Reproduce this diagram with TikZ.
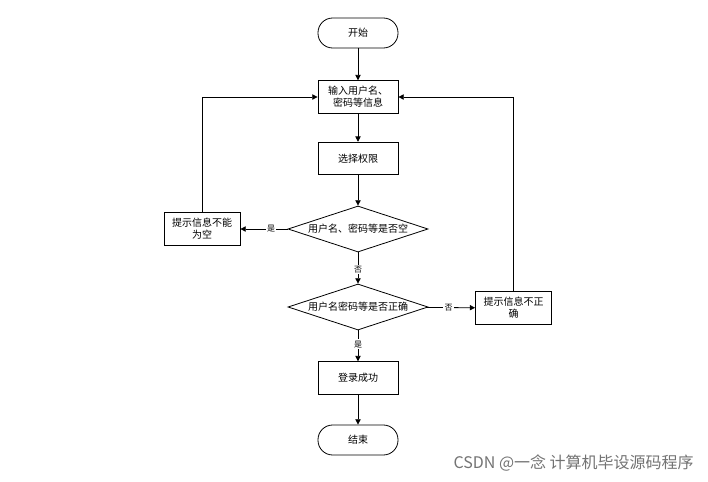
\documentclass[tikz,border=0pt]{standalone}
\usepackage{fontspec}
\setmainfont{Noto Sans CJK SC}
\usetikzlibrary{shapes.geometric,arrows.meta}
\begin{document}
\begin{tikzpicture}[x=0.75pt,y=-0.75pt,
  box/.style={draw,line width=0.6pt,minimum width=60pt,minimum height=24.5pt,align=center,font=\fontsize{7.5}{9}\selectfont,inner sep=1pt},
  term/.style={draw,line width=0.6pt,rounded corners=11pt,minimum width=60pt,minimum height=22.5pt,font=\fontsize{7.5}{9}\selectfont},
  dia/.style={draw,line width=0.6pt,diamond,aspect=3,minimum width=105pt,minimum height=34.5pt,inner sep=0pt,font=\fontsize{7.5}{9}\selectfont},
  arr/.style={-{Triangle[length=4pt,width=4pt]},line width=0.6pt},
  lab/.style={fill=white,inner sep=1pt,font=\fontsize{6}{7}\selectfont}]
\useasboundingbox (0,0) rectangle (708,482);
\node[term] (start) at (358,33) {开始};
\node[box] (input) at (358,97) {输入用户名、\\密码等信息};
\node[box] (perm) at (358,158.5) {选择权限};
\node[dia] (d1) at (358,229) {用户名、密码等是否空};
\node[box,minimum width=57pt] (empty) at (202,229) {提示信息不能\\为空};
\node[dia] (d2) at (358,307) {用户名密码等是否正确};
\node[box,minimum width=57pt] (wrong) at (513.5,308) {提示信息不正\\确};
\node[box] (ok) at (358,378) {登录成功};
\node[term] (end) at (358,440) {结束};
\coordinate (lc) at (202,97);
\coordinate (rc) at (513.5,97);
\draw[arr] (start) -- (input);
\draw[arr] (input) -- (perm);
\draw[arr] (perm) -- (d1);
\draw[arr] (d1) -- node[lab,pos=0.55]{否} (d2);
\draw[arr] (d1) -- node[lab,pos=0.35]{是} (empty);
\draw[arr] (d2) -- node[lab,pos=0.45]{否} (wrong);
\draw[arr] (d2) -- node[lab,pos=0.45]{是} (ok);
\draw[arr] (ok) -- (end);
\draw[arr] (empty.north) -- (lc) -- (input.west);
\draw[arr] (wrong.north) -- (rc) -- (input.east);
\node[anchor=east,text=black!55,font=\fontsize{12}{14}\selectfont,inner sep=0pt] (wm) at (694,463) {CSDN @一念 计算机毕设源码程序};
\end{tikzpicture}
\end{document}
